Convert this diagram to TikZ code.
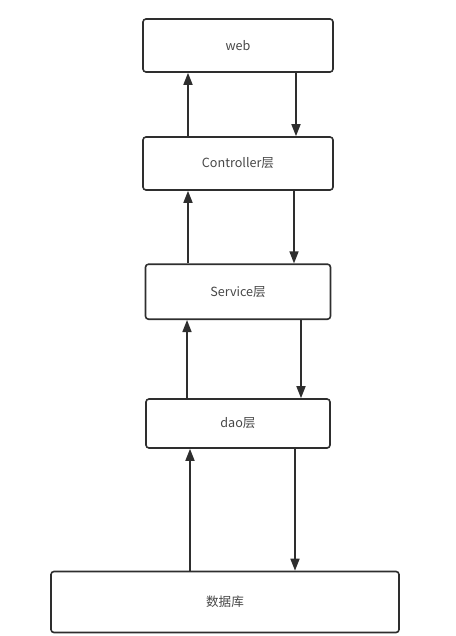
\documentclass[tikz,border=0pt]{standalone}
\usepackage{fontspec}
\setmainfont{Noto Sans CJK SC}
\usepackage{tikz}
\usetikzlibrary{arrows.meta, positioning, calc}

\begin{document}
\begin{tikzpicture}
            [
                x=1pt, y=-1pt,
                layer/.style={draw=black!82, line width=1.6pt, rounded corners=3pt,
                    fill=white, text=black!72, font=\fontsize{12.6}{14}\selectfont,
                    inner sep=0pt, minimum height=53pt, minimum width=190pt},
                flow/.style={draw=black!82, line width=1.6pt,
                    -{Triangle[length=12pt, width=9pt]}}
            ]
            \useasboundingbox (0,0) rectangle (455,636);
            \node [layer] (web) at (238,45.5) {web};
            \node [layer] (ctrl) at (238,163.5) {Controller层};
            \node [layer, minimum width=185pt, minimum height=55pt] (service) at (238,291.7) {Service层};
            \node [layer, minimum width=184pt, minimum height=49pt] (dao) at (238,423.5) {dao层};
            \node [layer, minimum width=348pt, minimum height=61pt] (db) at (225,602) {数据库};
            % upward
            \draw [flow] (ctrl.north -| 188,0) -- (web.south -| 188,0);
            \draw [flow] (service.north -| 188,0) -- (ctrl.south -| 188,0);
            \draw [flow] (dao.north -| 187,0) -- (service.south -| 187,0);
            \draw [flow] (db.north -| 190,0) -- (dao.south -| 190,0);
            % downward
            \draw [flow] (web.south -| 296,0) -- (ctrl.north -| 296,0);
            \draw [flow] (ctrl.south -| 294,0) -- (service.north -| 294,0);
            \draw [flow] (service.south -| 301,0) -- (dao.north -| 301,0);
            \draw [flow] (dao.south -| 295,0) -- (db.north -| 295,0);
\end{tikzpicture}
\end{document}
